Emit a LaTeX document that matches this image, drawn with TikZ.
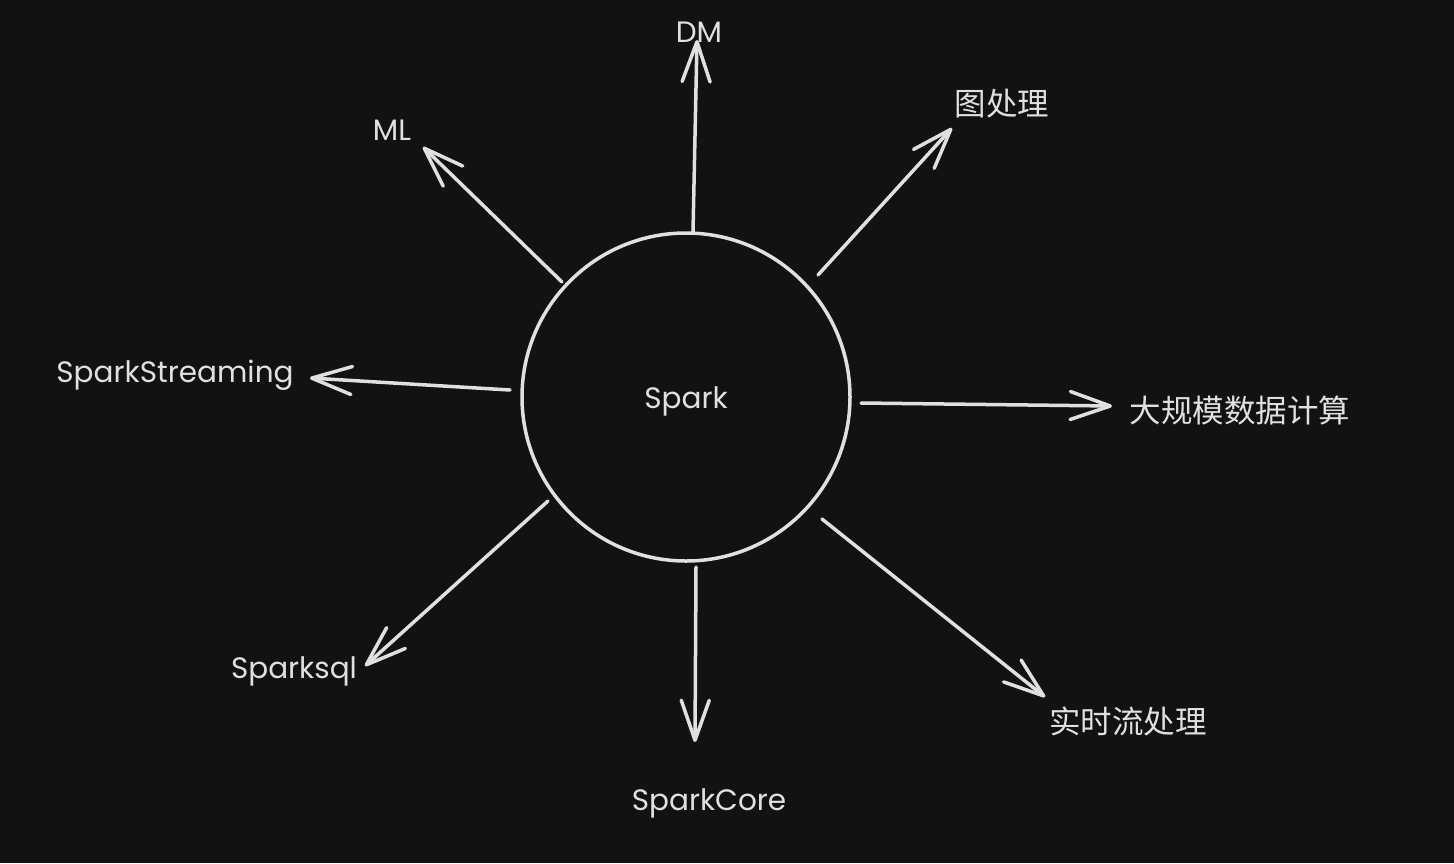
\documentclass[tikz,border=0pt]{standalone}
\usepackage{fontspec}
\setmainfont{Poppins}
\newfontfamily\cjk{Noto Sans CJK SC}
\usetikzlibrary{arrows.meta}
\definecolor{bg}{HTML}{121212}
\definecolor{ink}{HTML}{E0E0E0}
\begin{document}
\begin{tikzpicture}[x=1pt,y=-1pt,
  conn/.style={draw=ink, line width=3.5pt, line cap=round,
    -{Straight Barb[length=40pt,width=28pt,round]}},
  lbl/.style={text=ink, font=\fontsize{29.5}{33}\selectfont, inner sep=0pt},
  clbl/.style={text=ink, font=\cjk\fontsize{31.5}{35}\selectfont, inner sep=0pt}]
\fill[bg] (0,0) rectangle (1454,863);
\useasboundingbox (0,0) rectangle (1454,863);
% central circle
\node[draw=ink, line width=3.5pt, circle, minimum size=328pt, inner sep=0pt] (spark) at (686,397) {};
\node[lbl] (sparkt) at (686,401) {Spark};
% labels
\node[lbl] (dm) at (699,32) {DM};
\node[clbl] (graph) at (1002,104) {图处理};
\node[lbl] (ml) at (392,130) {ML};
\node[lbl] (stream) at (175,375) {SparkStreaming};
\node[clbl] (big) at (1240,410) {大规模数据计算};
\node[lbl] (sql) at (294,671) {Sparksql};
\node[lbl] (core) at (709,803) {SparkCore};
\node[clbl] (rt) at (1128,721) {实时流处理};
% arrow ends
\coordinate (dmS) at (693,232);   \coordinate (dmE) at (697,40);
\coordinate (grS) at (818,275);   \coordinate (grE) at (952,128);
\coordinate (mlS) at (562,282);   \coordinate (mlE) at (423,147);
\coordinate (stS) at (510,390);   \coordinate (stE) at (310,378);
\coordinate (bgS) at (861,403);   \coordinate (bgE) at (1112,406);
\coordinate (sqS) at (548,501);   \coordinate (sqE) at (365,666);
\coordinate (coS) at (696,567);   \coordinate (coE) at (695,742);
\coordinate (rtS) at (822,519);   \coordinate (rtE) at (1045,697);
\draw[conn] (dmS) -- (dmE);
\draw[conn] (grS) -- (grE);
\draw[conn] (mlS) -- (mlE);
\draw[conn] (stS) -- (stE);
\draw[conn] (bgS) -- (bgE);
\draw[conn] (sqS) -- (sqE);
\draw[conn] (coS) -- (coE);
\draw[conn] (rtS) -- (rtE);
\end{tikzpicture}
\end{document}
